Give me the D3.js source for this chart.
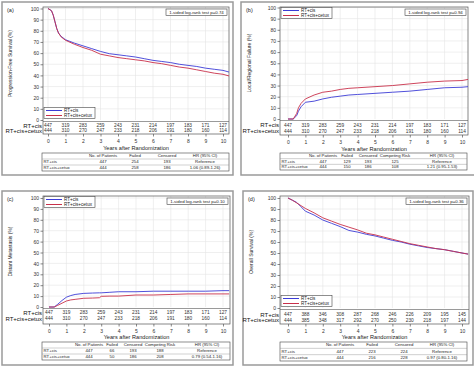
<!DOCTYPE html>
<html>
<head>
<meta charset="utf-8">
<script src="https://cdnjs.cloudflare.com/ajax/libs/d3/7.8.5/d3.min.js"></script>
<style>
  body { margin: 0; background: #fff; }
  svg { display: block; font-family: "Liberation Sans", Arial, sans-serif; }
  .grid line { stroke: #e4e4e4; stroke-width: 0.6; }
  .axis path, .axis line { stroke: #555; stroke-width: 0.7; }
  .axis text { font-size: 5px; fill: #333; }
</style>
</head>
<body>
<div id="chart"></div>
<script>
// ---- data ----
const groups = ["RT+cis", "RT+cis+cetux"];
const yearTicks = [0, 1, 2, 3, 4, 5, 6, 7, 8, 9, 10];

// (a) progression-free survival
const pfsTime = [0, 0.2, 0.3, 0.4, 0.5, 0.6, 0.75, 1, 1.5, 2, 2.5, 3, 3.5, 4, 4.5, 5, 5.5, 6, 6.5, 7, 7.5, 8, 8.5, 9, 9.5, 10, 10.35];
const pfsCis = [100, 98, 94, 88, 82, 78, 75, 72, 69, 66.5, 64, 61.5, 59.5, 58.5, 57.5, 56.5, 55, 53.5, 52.5, 51.5, 50, 49, 48, 46.5, 45.5, 44.5, 43];
const pfsCetux = [100, 98, 94, 88, 82, 78, 74.5, 71.5, 68, 65, 62.5, 59, 57.5, 56, 55, 54, 53, 51.5, 50.5, 49, 47.5, 46.5, 45, 43.5, 42, 41, 39.5];

// (b) local/regional failure
const lrfTime = [0, 0.3, 0.5, 0.6, 0.75, 1, 1.5, 2, 2.5, 3, 3.5, 4, 5, 6, 7, 8, 9, 10, 10.35];
const lrfCis = [0, 0, 3, 7, 11, 15, 16, 18, 19.5, 20.5, 21.5, 22, 23, 24, 25, 26.5, 28, 28.5, 29];
const lrfCetux = [0, 0, 5, 10, 14, 18, 21.5, 24, 25, 26.5, 27.5, 28, 29, 30, 31.5, 33, 34, 34.5, 35.5];

// (c) distant metastasis
const dmTime = [0, 0.3, 0.5, 0.75, 1, 1.25, 1.5, 2, 2.5, 2.9, 3, 3.5, 4, 5, 6, 7, 8, 9, 10, 10.35];
const dmCis = [0, 0, 2.5, 6, 9, 10.5, 11.5, 12.5, 12.8, 13, 13, 13.5, 14, 14, 14.5, 14.5, 14.5, 14.5, 15, 15];
const dmCetux = [0, 0, 1.5, 3.5, 5.5, 6.5, 7, 8, 8.2, 8.5, 9.8, 10, 10, 11, 11, 11.5, 12, 12, 12, 12];

// (d) overall survival
const osTime = [0, 0.25, 0.5, 0.75, 1, 1.5, 2, 2.5, 3, 3.5, 4, 4.5, 5, 5.5, 6, 6.5, 7, 7.5, 8, 8.5, 9, 9.5, 10, 10.35];
const osCis = [100, 98, 96, 92, 88, 84.5, 80, 77, 74, 70.5, 69, 67, 65.5, 63.5, 61.5, 60, 58, 56.5, 55, 54, 53, 51.5, 50, 49];
const osCetux = [100, 98, 95.5, 93, 90.5, 86.5, 82, 79, 76, 73.5, 71, 68, 66.5, 64.5, 62.5, 60.5, 58.5, 57, 55.5, 54, 53, 51.5, 50, 49];

// numbers at risk
const riskCis = [447, 319, 283, 259, 243, 231, 214, 197, 183, 171, 127];
const riskCetux = [444, 310, 270, 247, 233, 218, 206, 191, 180, 160, 114];
const osRiskCis = [447, 388, 346, 308, 287, 268, 246, 226, 209, 195, 145];
const osRiskCetux = [444, 385, 348, 317, 292, 270, 250, 230, 218, 197, 144];

// summary tables
const colsBasic = ["No. of Patients", "Failed", "Censored", "HR (95% CI)"];
const colsCompeting = ["No. of Patients", "Failed", "Censored", "Competing Risk", "HR (95% CI)"];
const pfsRows = [["447", "254", "193", "Reference"], ["444", "258", "186", "1.06 (0.89-1.26)"]];
const lrfRows = [["447", "129", "193", "125", "Reference"], ["444", "150", "186", "108", "1.21 (0.95-1.53)"]];
const dmRows = [["447", "66", "193", "188", "Reference"], ["444", "50", "186", "208", "0.79 (0.54-1.16)"]];
const osRows = [["447", "223", "224", "Reference"], ["444", "216", "228", "0.97 (0.80-1.16)"]];

const colours = ["#3c3cd6", "#c8304a"];

const svg = d3.select("#chart").append("svg")
  .attr("width", 474)
  .attr("height", 366);

const panels = [
  { tag: "(a)", ylab: "Progression-Free Survival (%)", time: pfsTime, series: [pfsCis, pfsCetux],
    risk: [riskCis, riskCetux], cols: colsBasic, rows: pfsRows, colX: [103, 135, 167, 205],
    test: "1-sided log-rank test p=0.74", legend: "bottom",
    box: [2, 2, 231, 173], left: 43, right: 229, top: 7, y100: 8.5, y0: 120, x0: 48, x10: 223,
    r1: 126, r2: 131, axisY: 134, titleY: 150, table: [42, 153, 187, 18] },
  { tag: "(b)", ylab: "Local/Regional Failure (%)", time: lrfTime, series: [lrfCis, lrfCetux],
    risk: [riskCis, riskCetux], cols: colsCompeting, rows: lrfRows, colX: [323, 347, 368, 395, 442],
    test: "1-sided log-rank test p=0.94", legend: "top",
    box: [241, 2, 240, 173], left: 280, right: 468, top: 7, y100: 7.5, y0: 119, x0: 288, x10: 462,
    r1: 125.5, r2: 131.5, axisY: 135, titleY: 150.5, table: [280, 153, 187, 17] },
  { tag: "(c)", ylab: "Distant Metastasis (%)", time: dmTime, series: [dmCis, dmCetux],
    risk: [riskCis, riskCetux], cols: colsCompeting, rows: dmRows, colX: [89, 112, 133, 160, 207],
    test: "1-sided log-rank test p=0.10", legend: "top",
    box: [2, 191, 231, 174], left: 43, right: 230, top: 196, y100: 198, y0: 307, x0: 49, x10: 223,
    r1: 313, r2: 319, axisY: 324, titleY: 339, table: [42, 342, 188, 18] },
  { tag: "(d)", ylab: "Overall Survival (%)", time: osTime, series: [osCis, osCetux],
    risk: [osRiskCis, osRiskCetux], cols: colsBasic, rows: osRows, colX: [340, 372, 404, 442],
    test: "1-sided log-rank test p=0.36", legend: "bottom",
    box: [243, 191, 230, 174], left: 280, right: 469, top: 196, y100: 198, y0: 308, x0: 288, x10: 462,
    r1: 315, r2: 320.5, axisY: 324, titleY: 339, table: [280, 342, 187, 19] }
];

panels.forEach(drawPanel);

function drawPanel(p) {
  const g = svg.append("g");

  // outer frame
  g.append("rect")
    .attr("x", p.box[0]).attr("y", p.box[1])
    .attr("width", p.box[2]).attr("height", p.box[3])
    .attr("fill", "none").attr("stroke", "#9a9a9a").attr("stroke-width", 1.5);

  g.append("text")
    .attr("x", p.box[0] + 5).attr("y", p.top + 5)
    .attr("font-size", 5.5).attr("fill", "#222")
    .text(p.tag);

  const x = d3.scaleLinear().domain([0, 10]).range([p.x0, p.x10]);
  const y = d3.scaleLinear().domain([0, 100]).range([p.y0, p.y100]);
  const xMax = x.invert(p.right);

  // grid
  const grid = g.append("g").attr("class", "grid");
  grid.selectAll(".h").data(d3.range(10, 101, 10)).join("line")
    .attr("x1", p.left).attr("x2", p.right)
    .attr("y1", d => y(d)).attr("y2", d => y(d));
  grid.selectAll(".v").data(yearTicks).join("line")
    .attr("x1", d => x(d)).attr("x2", d => x(d))
    .attr("y1", p.top).attr("y2", p.y0);

  // plot frame + separator above at-risk rows
  g.append("rect")
    .attr("x", p.left).attr("y", p.top)
    .attr("width", p.right - p.left).attr("height", p.axisY - p.top)
    .attr("fill", "none").attr("stroke", "#555").attr("stroke-width", 0.7);
  g.append("line")
    .attr("x1", p.left).attr("x2", p.right)
    .attr("y1", p.y0 + 1.5).attr("y2", p.y0 + 1.5)
    .attr("stroke", "#555").attr("stroke-width", 0.6);

  // axes
  const yAxis = d3.axisLeft(y).tickValues(d3.range(0, 101, 10)).tickSize(2.5).tickPadding(1.5);
  g.append("g").attr("class", "axis")
    .attr("transform", "translate(" + p.left + ",0)")
    .call(yAxis)
    .call(a => a.select(".domain").remove());

  const xAxis = d3.axisBottom(x).tickValues(yearTicks).tickSize(2.5).tickPadding(2.5).tickFormat(d3.format("d"));
  g.append("g").attr("class", "axis")
    .attr("transform", "translate(0," + p.axisY + ")")
    .call(xAxis)
    .call(a => a.select(".domain").remove());

  g.append("text")
    .attr("transform", "translate(" + (p.box[0] + 8.5) + "," + ((p.top + p.y0) / 2) + ") rotate(-90)")
    .attr("text-anchor", "middle").attr("dominant-baseline", "middle")
    .attr("font-size", 5).attr("fill", "#222")
    .text(p.ylab);

  g.append("text")
    .attr("x", (p.left + p.right) / 2).attr("y", p.titleY)
    .attr("text-anchor", "middle")
    .attr("font-size", 5.6).attr("fill", "#222")
    .text("Years after Randomization");

  // curves
  const line = d3.line()
    .x((d, i) => x(Math.min(p.time[i], xMax)))
    .y(d => y(d))
    .curve(d3.curveLinear);
  p.series.forEach((s, k) => {
    g.append("path")
      .datum(s)
      .attr("fill", "none")
      .attr("stroke", colours[k])
      .attr("stroke-width", 0.9)
      .attr("d", line);
  });

  // numbers at risk
  [p.r1, p.r2].forEach((ry, k) => {
    g.append("text")
      .attr("x", p.left - 1).attr("y", ry)
      .attr("text-anchor", "end").attr("dominant-baseline", "middle")
      .attr("font-size", 6).attr("fill", "#111")
      .text(groups[k]);
    g.selectAll(null).data(p.risk[k]).join("text")
      .attr("x", (d, i) => x(i)).attr("y", ry)
      .attr("text-anchor", "middle").attr("dominant-baseline", "middle")
      .attr("font-size", 4.8).attr("fill", "#333")
      .text(d => d);
  });

  // legend
  const lx = p.left + 1;
  const ly = p.legend === "top" ? p.top + 0.5 : p.y0 - 12.5;
  const lg = g.append("g").attr("transform", "translate(" + lx + "," + ly + ")");
  lg.append("rect").attr("width", 51).attr("height", 11)
    .attr("fill", "#fff").attr("stroke", "#444").attr("stroke-width", 0.6);
  groups.forEach((name, k) => {
    lg.append("line")
      .attr("x1", 2).attr("x2", 18)
      .attr("y1", 3 + k * 5).attr("y2", 3 + k * 5)
      .attr("stroke", colours[k]).attr("stroke-width", 1);
    lg.append("text")
      .attr("x", 20).attr("y", 3 + k * 5)
      .attr("dominant-baseline", "middle")
      .attr("font-size", 4.6).attr("fill", "#222")
      .text(name);
  });

  // log-rank test box
  const tw = 61;
  const tb = g.append("g").attr("transform", "translate(" + (p.right - tw - 2) + "," + (p.top + 2) + ")");
  tb.append("rect").attr("width", tw).attr("height", 6.5)
    .attr("fill", "#fff").attr("stroke", "#444").attr("stroke-width", 0.6);
  tb.append("text")
    .attr("x", tw / 2).attr("y", 3.4)
    .attr("text-anchor", "middle").attr("dominant-baseline", "middle")
    .attr("font-size", 4.4).attr("fill", "#222")
    .text(p.test);

  // summary table
  const [tx, ty, tW, tH] = p.table;
  const rowH = tH / 3;
  const tg = g.append("g");
  tg.append("rect").attr("x", tx).attr("y", ty).attr("width", tW).attr("height", tH)
    .attr("fill", "#fff").attr("stroke", "#444").attr("stroke-width", 0.6);
  [1, 2].forEach(r => {
    tg.append("line")
      .attr("x1", tx).attr("x2", tx + tW)
      .attr("y1", ty + r * rowH).attr("y2", ty + r * rowH)
      .attr("stroke", "#888").attr("stroke-width", 0.4);
  });
  p.cols.forEach((c, j) => {
    tg.append("text")
      .attr("x", p.colX[j]).attr("y", ty + rowH / 2)
      .attr("text-anchor", "middle").attr("dominant-baseline", "middle")
      .attr("font-size", 4.3).attr("fill", "#222")
      .text(c);
  });
  p.rows.forEach((row, r) => {
    const ry = ty + rowH * (r + 1.5);
    tg.append("text")
      .attr("x", tx + 1.5).attr("y", ry)
      .attr("dominant-baseline", "middle")
      .attr("font-size", 4.3).attr("fill", "#222")
      .text(groups[r]);
    row.forEach((v, j) => {
      tg.append("text")
        .attr("x", p.colX[j]).attr("y", ry)
        .attr("text-anchor", "middle").attr("dominant-baseline", "middle")
        .attr("font-size", 4.3).attr("fill", "#222")
        .text(v);
    });
  });
}
</script>
</body>
</html>
